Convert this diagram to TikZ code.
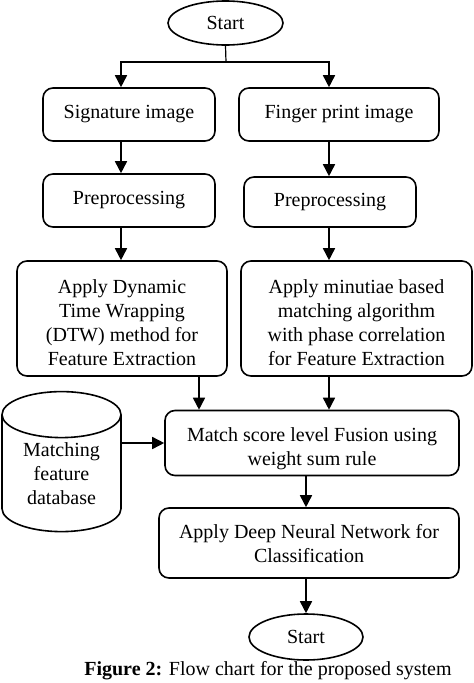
\documentclass[tikz,border=0pt]{standalone}
\usepackage{fontspec}
\setmainfont{Liberation Serif}
\usepackage{tikz}
\usetikzlibrary{shapes.geometric,arrows.meta,positioning,calc}
% text set a little lower than the box centre
\newcommand{\dropped}[2]{\raisebox{-#1}[\height][\depth]{\begin{tabular}{@{}c@{}}#2\end{tabular}}}

\begin{document}
\begin{tikzpicture}[x=1pt,y=-1pt,
    font=\fontsize{20}{24}\selectfont,
    stepbox/.style={draw,line width=1.6pt,rounded corners=10pt,align=center,inner sep=0pt},
    term/.style={draw,ellipse,line width=1.6pt,inner sep=0pt},
    store/.style={draw,cylinder,shape border rotate=90,aspect=0.6,line width=1.6pt,align=center,inner sep=0pt},
    arr/.style={line width=1.6pt,-{Triangle[length=12pt,width=12pt]}}]
    \useasboundingbox (0,0) rectangle (474,683);
    % Parameters
    \coordinate (colA) at (121,0);
    \coordinate (colB) at (329,0);
    \coordinate (colC) at (199,0);
    \coordinate (split) at (226,62);
    % Nodes
    \node[term,minimum width=115pt,minimum height=44pt] (start) at (225.5,23) {Start};
    \node[stepbox,minimum width=172pt,minimum height=53pt] (sig) at (129,114.5) {Signature image};
    \node[stepbox,minimum width=200pt,minimum height=53pt] (fing) at (339,114.5) {Finger print image};
    \node[stepbox,minimum width=172pt,minimum height=53pt] (preA) at (129,200.5) {Preprocessing};
    \node[stepbox,minimum width=172pt,minimum height=50pt] (preB) at (330,202) {Preprocessing};
    \node[stepbox,minimum width=210pt,minimum height=115pt] (dtw) at (122,318.5)
      {\dropped{6pt}{Apply Dynamic\\Time Wrapping\\(DTW) method for\\Feature Extraction}};
    \node[stepbox,minimum width=231pt,minimum height=115pt] (minu) at (356.5,318.5)
      {\dropped{6pt}{Apply minutiae based\\matching algorithm\\with phase correlation\\for Feature Extraction}};
    \node[store,minimum width=119pt,minimum height=140pt] (db) at (61.5,473.5)
      {Matching\\feature\\database};
    \node[stepbox,minimum width=294pt,minimum height=65pt] (fuse) at (312,443)
      {\dropped{6pt}{Match score level Fusion using\\weight sum rule}};
    \node[stepbox,minimum width=300pt,minimum height=70pt] (dnn) at (309,543)
      {\dropped{3pt}{Apply Deep Neural Network for\\Classification}};
    \node[term,minimum width=114pt,minimum height=46pt] (stop) at (306,637) {Start};
    % Connectors
    \draw[line width=1.2pt] (start.south) -- (split);
    \draw[arr] (split) -| (colA |- sig.north);
    \draw[arr] (split) -| (colB |- fing.north);
    \draw[arr] (colA |- sig.south) -- (colA |- preA.north);
    \draw[arr] (colB |- fing.south) -- (colB |- preB.north);
    \draw[arr] (colA |- preA.south) -- (colA |- dtw.north);
    \draw[arr] (colB |- preB.south) -- (colB |- minu.north);
    \draw[arr] (colC |- dtw.south) -- (colC |- fuse.north);
    \draw[arr] (colB |- minu.south) -- (colB |- fuse.north);
    \draw[arr] (db.east |- fuse.west) -- (fuse.west);
    \draw[arr] (stop.north |- fuse.south) -- (stop.north |- dnn.north);
    \draw[arr] (stop.north |- dnn.south) -- (stop.north);
    % Caption
    \node (caption) at (268,671) {\textbf{Figure 2:} Flow chart for the proposed system};
\end{tikzpicture}
\end{document}
